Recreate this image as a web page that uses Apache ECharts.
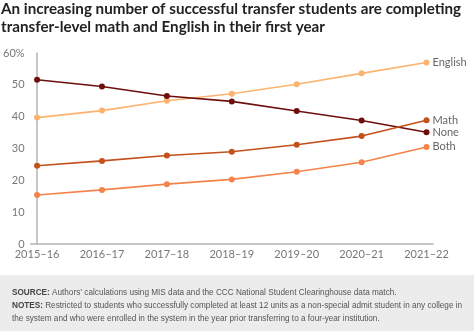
<!DOCTYPE html>
<html><head><meta charset="utf-8">
<script src="https://cdn.jsdelivr.net/npm/echarts@6/dist/echarts.min.js"></script>
<style>html,body{margin:0;padding:0;background:#fff}#c{width:474px;height:333px}</style>
</head><body><div id="c"></div>
<script>
const years = ['2015–16','2016–17','2017–18','2018–19','2019–20','2020–21','2021–22'];
const english = [39.7, 41.9, 45.0, 47.2, 50.2, 53.6, 57.0];
const none = [51.6, 49.5, 46.5, 44.8, 41.8, 38.8, 35.1];
const math = [24.6, 26.1, 27.8, 29.0, 31.2, 33.9, 38.9];
const both = [15.4, 17.0, 18.8, 20.3, 22.7, 25.7, 30.5];
const yTicks = [0, 10, 20, 30, 40, 50, 60];

const seriesDefs = [
  {name:'English', data: english, color:'#fbb36e'},
  {name:'None', data: none, color:'#6e0f0f'},
  {name:'Math', data: math, color:'#c4501c'},
  {name:'Both', data: both, color:'#f5834a'}
];

const chart = echarts.init(document.getElementById('c'));
chart.setOption({
  animation:false,
  title:{
    text:'An increasing number of successful transfer students are completing\ntransfer-level math and English in their first year',
    left:1, top:0, padding:0,
    textStyle:{fontFamily:'Lato', fontWeight:'bold', fontSize:15.2, color:'#222', lineHeight:18}
  },
  graphic:[
    {type:'rect', shape:{x:0,y:275,width:474,height:56}, style:{fill:'#ececec'}, z:-1},
    {type:'text', left:12, top:286, style:{
      rich:{b:{fontWeight:'bold',fontFamily:'Liberation Sans',fontSize:8.2,fill:'#444'}, n:{fontFamily:'Liberation Sans',fontSize:8.2,fill:'#555'}},
      text:'{b|SOURCE:}{n| Authors\u2019 calculations using MIS data and the CCC National Student Clearinghouse data match.}\n{b|NOTES:}{n| Restricted to students who successfully completed at least 12 units as a non-special admit student in any college in}\n{n|the system and who were enrolled in the system in the year prior transferring to a four-year institution.}',
      lineHeight:13, fontFamily:'Liberation Sans', fontSize:8.2, fill:'#555'
    }}
  ],
  grid:{left:26, right:41, top:53, bottom:89},
  xAxis:{
    type:'value', min:-0.1, max:6.1,
    splitLine:{show:false},
    axisLine:{show:true, lineStyle:{color:'#b5b5b5', width:1.5}},
    axisTick:{show:false},
    axisLabel:{customValues:[0,1,2,3,4,5,6], formatter:v=>years[Math.round(v)], color:'#777', fontSize:11, fontFamily:'Lato', margin:5}
  },
  yAxis:{
    type:'value', min:0, max:60, interval:10,
    splitLine:{show:false},
    axisLine:{show:true, lineStyle:{color:'#b5b5b5', width:1.5}},
    axisTick:{show:false},
    axisLabel:{formatter:v=> v===60 ? '60%' : String(v), color:'#777', fontSize:11, fontFamily:'Lato', margin:6}
  },
  series: seriesDefs.map(s=>({
    name:s.name, type:'line',
    data: s.data.map((v,i)=>[i,v]),
    color:s.color,
    symbol:'circle', symbolSize:6,
    lineStyle:{width:1.6, color:s.color},
    itemStyle:{color:s.color},
    endLabel:{show:true, formatter:s.name, color:'#666', fontSize:11, fontFamily:'Lato', distance:6},
    labelLayout:{moveOverlap:'shiftY'}
  }))
});
</script></body></html>
